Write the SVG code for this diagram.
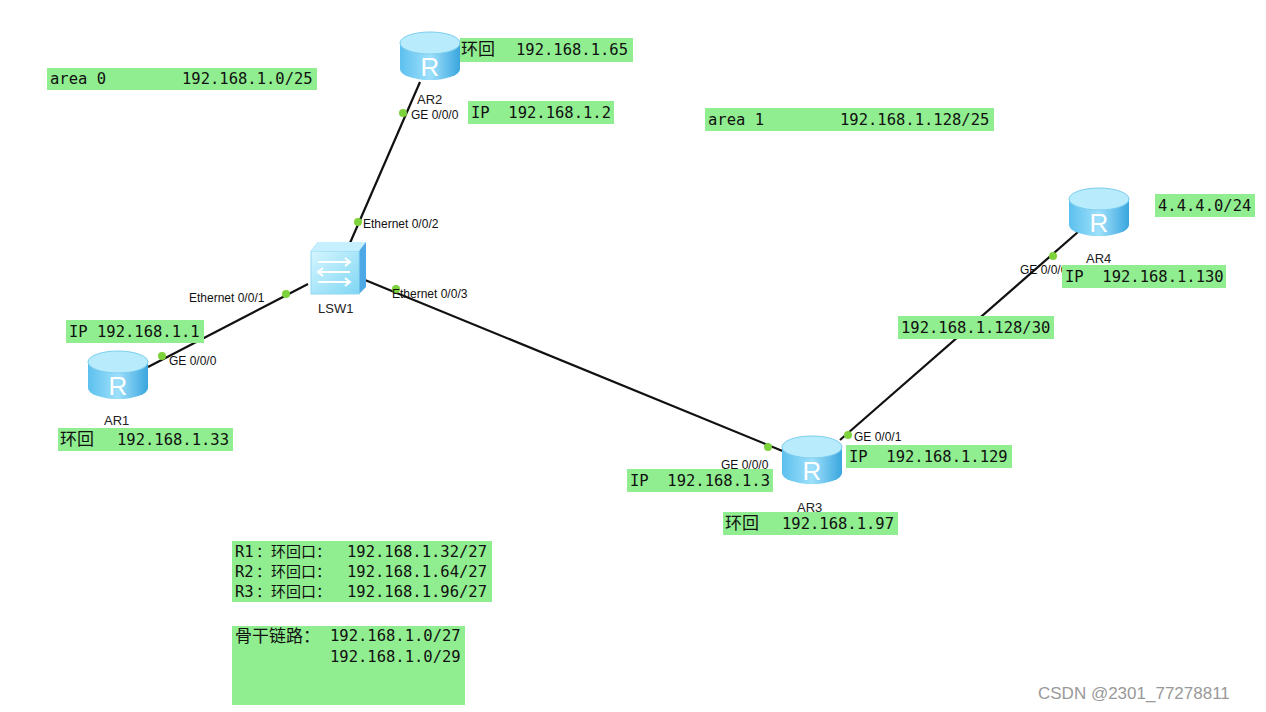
<svg xmlns="http://www.w3.org/2000/svg" width="1266" height="712" viewBox="0 0 1266 712">
<defs>
<linearGradient id="rg" x1="0" y1="0" x2="1" y2="0"><stop offset="0" stop-color="#5cc0ee"/><stop offset="0.5" stop-color="#9ee0fb"/><stop offset="1" stop-color="#3aa6de"/></linearGradient>
<linearGradient id="sg" x1="0" y1="0" x2="1" y2="1"><stop offset="0" stop-color="#d6f6ff"/><stop offset="1" stop-color="#7fd6f4"/></linearGradient>
<g id="router">
<path d="M-30,-14 V12 A30,11 0 0 0 30,12 V-14 Z" fill="url(#rg)"/>
<ellipse cx="0" cy="-14" rx="30" ry="11" fill="#b8ecfd" stroke="#7ccdee"/>
<text x="0" y="19" text-anchor="middle" font-family="Liberation Sans, sans-serif" font-size="26" fill="#fff">R</text>
</g>
</defs>
<style>
.b{fill:#90ee90}
.m{font-family:"DejaVu Sans Mono","Noto Sans CJK SC",monospace;font-size:15.5px;fill:#111}
.c{font-family:"Noto Sans CJK SC",sans-serif;font-size:17px;fill:#111}
.s{font-family:"Noto Sans CJK SC",sans-serif;font-size:15px;fill:#111}
.l{font-family:"Liberation Sans",Arial,sans-serif;font-size:12px;fill:#111}
.n{font-family:"Liberation Sans",Arial,sans-serif;font-size:13px;fill:#222}
.d{fill:#7ed23c}
</style>
<rect width="1266" height="712" fill="#fff"/>
<g id="connectors" stroke="#111" stroke-width="2.2">
<line x1="420" y1="82" x2="350" y2="243"/>
<line x1="308" y1="284" x2="148" y2="367"/>
<line x1="365" y1="280" x2="785" y2="452"/>
<line x1="840" y1="440" x2="1078" y2="232"/>
</g>
<g id="ports">
<circle class="d" cx="403" cy="113" r="4"/><circle class="d" cx="358" cy="222" r="4"/>
<circle class="d" cx="286" cy="294" r="4"/><circle class="d" cx="162" cy="356" r="4"/>
<circle class="d" cx="396" cy="289" r="4"/><circle class="d" cx="768" cy="447" r="4"/>
<circle class="d" cx="848" cy="435" r="4"/><circle class="d" cx="1053" cy="256" r="4"/>
<text class="l" x="411" y="119">GE 0/0/0</text>
<text class="l" x="363" y="228">Ethernet 0/0/2</text>
<text class="l" x="189" y="302">Ethernet 0/0/1</text>
<text class="l" x="392" y="298">Ethernet 0/0/3</text>
<text class="l" x="169" y="365">GE 0/0/0</text>
<text class="l" x="721" y="469">GE 0/0/0</text>
<text class="l" x="854" y="441">GE 0/0/1</text>
<text class="l" x="1020" y="274">GE 0/0/0</text>
</g>
<g id="AR2"><use href="#router" x="430" y="57"/><text class="n" x="417" y="104">AR2</text></g>
<g id="AR1"><use href="#router" x="118" y="376"/><text class="n" x="104" y="425">AR1</text></g>
<g id="AR3"><use href="#router" x="812" y="461"/><text class="n" x="797" y="512">AR3</text></g>
<g id="AR4"><use href="#router" x="1099" y="213"/><text class="n" x="1086" y="263">AR4</text></g>
<g id="LSW1">
<path d="M311,251 L318,242 H366 V287 L359,294 Z" fill="#4fa8e6"/>
<rect x="311" y="251" width="48" height="43" fill="url(#sg)" stroke="#8fd8f0"/>
<path d="M311,251 L318,242 H366 L359,251 Z" fill="#c6f0ff"/>
<g stroke="#fff" stroke-width="2" fill="none"><path d="M318,262 H350 M345,258 L350,262 L345,266"/><path d="M350,272 H318 M323,268 L318,272 L323,276"/><path d="M318,282 H350 M345,278 L350,282 L345,286"/></g>
<text class="n" x="318" y="313">LSW1</text>
</g>
<g id="notes">
<rect class="b" x="47" y="68" width="270" height="22"/><text class="m" x="50" y="84">area 0</text><text class="m" x="182" y="84">192.168.1.0/25</text>
<rect class="b" x="460" y="38" width="173" height="24"/><text class="c" x="461" y="55">环回</text><text class="m" x="516" y="55">192.168.1.65</text>
<rect class="b" x="468" y="101" width="146" height="23"/><text class="m" x="471" y="118">IP&#160;&#160;192.168.1.2</text>
<rect class="b" x="705" y="108" width="289" height="23"/><text class="m" x="708" y="125">area 1</text><text class="m" x="840" y="125">192.168.1.128/25</text>
<rect class="b" x="1155" y="194" width="100" height="23"/><text class="m" x="1158" y="211">4.4.4.0/24</text>
<rect class="b" x="1062" y="265" width="164" height="23"/><text class="m" x="1065" y="282">IP&#160;&#160;192.168.1.130</text>
<rect class="b" x="898" y="316" width="156" height="23"/><text class="m" x="901" y="333">192.168.1.128/30</text>
<rect class="b" x="66" y="320" width="138" height="23"/><text class="m" x="69" y="337">IP 192.168.1.1</text>
<rect class="b" x="58" y="428" width="175" height="23"/><text class="c" x="60" y="445">环回</text><text class="m" x="117" y="445">192.168.1.33</text>
<rect class="b" x="846" y="445" width="166" height="23"/><text class="m" x="849" y="462">IP&#160;&#160;192.168.1.129</text>
<rect class="b" x="627" y="469" width="146" height="23"/><text class="m" x="630" y="486">IP&#160;&#160;192.168.1.3</text>
<rect class="b" x="723" y="512" width="175" height="23"/><text class="c" x="725" y="529">环回</text><text class="m" x="782" y="529">192.168.1.97</text>
<rect class="b" x="232" y="541" width="260" height="61"/>
<text class="m" x="235" y="557">R1</text><text class="s" x="256" y="557">：环回口：</text><text class="m" x="347" y="557">192.168.1.32/27</text>
<text class="m" x="235" y="577">R2</text><text class="s" x="256" y="577">：环回口：</text><text class="m" x="347" y="577">192.168.1.64/27</text>
<text class="m" x="235" y="597">R3</text><text class="s" x="256" y="597">：环回口：</text><text class="m" x="347" y="597">192.168.1.96/27</text>
<rect class="b" x="232" y="626" width="233" height="79"/>
<text class="c" x="235" y="642">骨干链路：</text><text class="m" x="330" y="641">192.168.1.0/27</text>
<text class="m" x="330" y="662">192.168.1.0/29</text>
</g>
<text x="1038" y="699" font-family="Liberation Sans, sans-serif" font-size="17" fill="#999">CSDN @2301_77278811</text>
</svg>
